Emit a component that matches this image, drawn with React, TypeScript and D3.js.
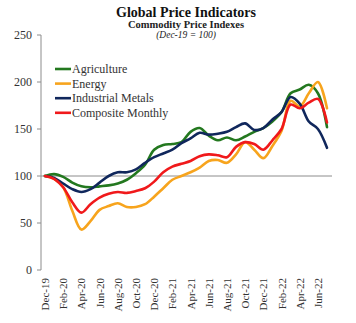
import React from "react";
import * as d3 from "d3";

const months = ["Dec-19","Jan-20","Feb-20","Mar-20","Apr-20","May-20","Jun-20","Jul-20","Aug-20","Sep-20","Oct-20","Nov-20","Dec-20","Jan-21","Feb-21","Mar-21","Apr-21","May-21","Jun-21","Jul-21","Aug-21","Sep-21","Oct-21","Nov-21","Dec-21","Jan-22","Feb-22","Mar-22","Apr-22","May-22","Jun-22","Jul-22"];

const agriculture = [100,102,99,93,89,88,89,90,92,96,103,112,128,133,134,136,147,151,143,138,141,138,142,147,151,158,168,188,192,197,188,152];
const energy = [100,97,88,63,43,52,64,68,71,67,67,70,78,87,96,100,104,109,116,117,114,123,136,128,119,132,148,180,174,188,200,172];
const metals = [100,98,92,86,83,86,93,100,104,104,107,114,120,124,128,135,140,146,144,145,147,152,156,149,151,160,168,184,177,158,150,130];
const composite = [100,97,88,72,61,70,77,81,83,82,84,87,94,104,110,113,116,121,123,122,120,131,136,134,128,138,150,176,172,178,182,157];

const yTicks = [0, 50, 100, 150, 200, 250];
const xTickLabels = months.filter((_, i) => i % 2 === 0);

const series = [
  { name: "Agriculture", values: agriculture, color: "#23781f" },
  { name: "Energy", values: energy, color: "#f7a41d" },
  { name: "Industrial Metals", values: metals, color: "#10275c" },
  { name: "Composite Monthly", values: composite, color: "#f0191b" },
];

const FONT = "'Liberation Serif', 'DejaVu Serif', serif";

export default function App() {
  const W = 356, H = 323;
  const x = d3.scaleLinear().domain([0, months.length - 1]).range([45, 327]);
  const y = d3.scaleLinear().domain([0, 250]).range([270, 35]);
  const line = d3.line<number>()
    .x((_, i) => x(i))
    .y((d) => y(d))
    .curve(d3.curveCatmullRom.alpha(0.5));

  return (
    <svg width={W} height={H} style={{ position: "absolute", left: 0, top: 0, background: "#fff" }} fontFamily={FONT}>
      <text x={186} y={17} textAnchor="middle" fontSize={14} fontWeight="bold" fill="#111">Global Price Indicators</text>
      <text x={186} y={28} textAnchor="middle" fontSize={10.5} fontWeight="bold" fill="#222">Commodity Price Indexes</text>
      <text x={186} y={37.5} textAnchor="middle" fontSize={9.5} fontStyle="italic" fill="#222">(Dec-19 = 100)</text>

      {/* y axis */}
      <line x1={41} x2={41} y1={y(250)} y2={y(0)} stroke="#8c8c8c" strokeWidth={1} />
      {yTicks.map((t) => (
        <g key={t}>
          <line x1={37} x2={41} y1={y(t)} y2={y(t)} stroke="#8c8c8c" strokeWidth={1} />
          <text x={32} y={y(t) + 4} textAnchor="end" fontSize={12} fill="#333">{t}</text>
        </g>
      ))}

      {/* reference line at 100 */}
      <line x1={41} x2={332} y1={y(100)} y2={y(100)} stroke="#8c8c8c" strokeWidth={1} />

      {/* x labels */}
      {xTickLabels.map((m, k) => {
        const xi = x(k * 2);
        return (
          <text key={m} transform={`translate(${xi + 4},${278}) rotate(-90)`} textAnchor="end" fontSize={11} fill="#333">{m}</text>
        );
      })}

      {/* lines */}
      {series.map((s) => (
        <path key={s.name} d={line(s.values) || ""} fill="none" stroke={s.color} strokeWidth={2.6} strokeLinejoin="round" strokeLinecap="round" />
      ))}

      {/* legend */}
      {series.map((s, i) => {
        const cy = 69 + i * 14.6;
        return (
          <g key={s.name}>
            <line x1={55} x2={71} y1={cy} y2={cy} stroke={s.color} strokeWidth={2.6} />
            <text x={72} y={cy + 4} fontSize={12} fill="#333">{s.name}</text>
          </g>
        );
      })}
    </svg>
  );
}
